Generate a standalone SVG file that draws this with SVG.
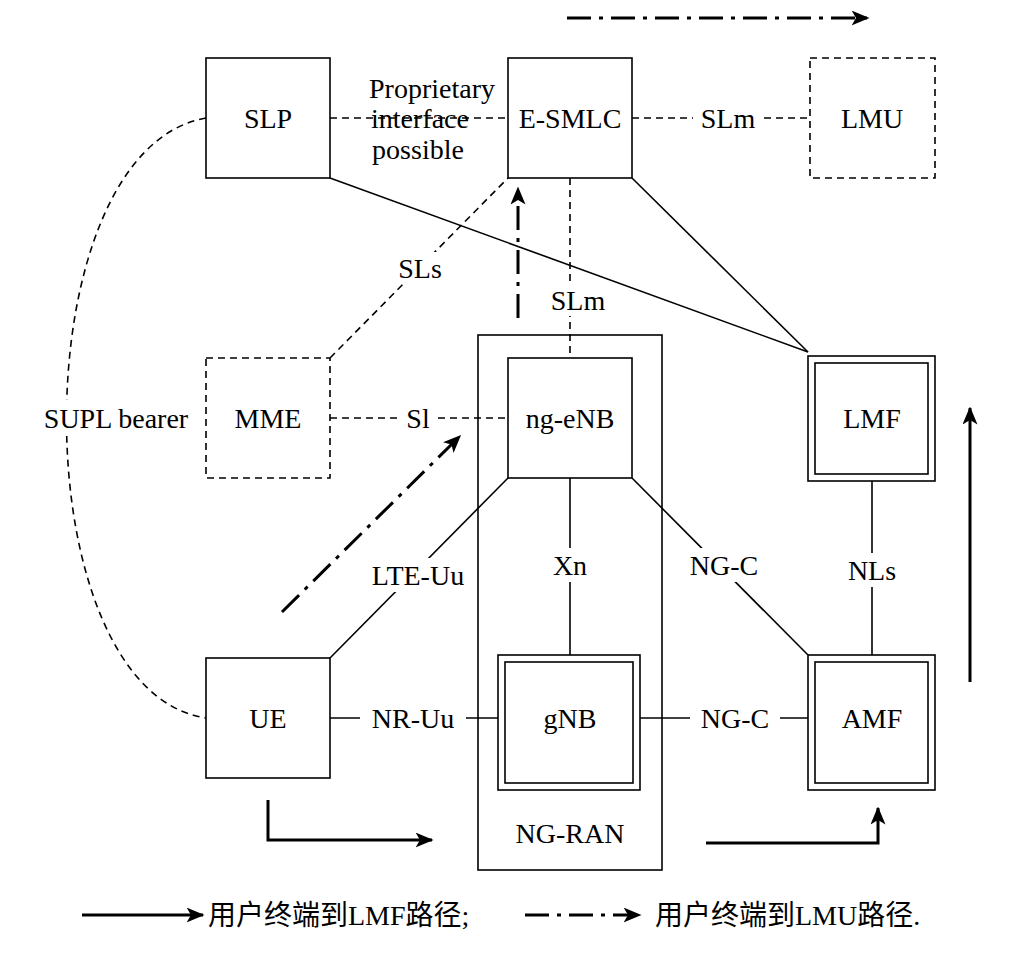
<svg xmlns="http://www.w3.org/2000/svg" width="1009" height="970" viewBox="0 0 1009 970">
<style>
.b{fill:#fff;stroke:#000;stroke-width:1.6}
.d{fill:#fff;stroke:#000;stroke-width:1.6;stroke-dasharray:7,5}
.l{fill:none;stroke:#000;stroke-width:1.6}
.dl{fill:none;stroke:#000;stroke-width:1.6;stroke-dasharray:7,5}
.p{fill:none;stroke:#000;stroke-width:3}
.pd{fill:none;stroke:#000;stroke-width:3;stroke-dasharray:24,8,4,8}
text{font-family:"Liberation Serif","Noto Sans CJK SC",serif;font-size:28px;text-anchor:middle;dominant-baseline:central}
.bg{fill:#fff;stroke:none}
</style>
<defs>
<marker id="a" viewBox="0 0 12 10" refX="11" refY="5" markerWidth="6" markerHeight="5" orient="auto" markerUnits="strokeWidth"><path d="M0,0L12,5L0,10L3,5Z" fill="#000"/></marker>
</defs>
<rect width="1009" height="970" fill="#fff"/>
<g id="ngran"><rect class="b" x="478" y="335" width="184" height="535"/><text x="570" y="833">NG-RAN</text></g>
<g id="connectors">
<path class="dl" d="M206,118 C20,150 20,690 206,718"/>
<rect class="bg" x="28" y="400" width="176" height="36"/>
<text x="116" y="418">SUPL bearer</text>
<line class="dl" x1="330" y1="118" x2="508" y2="118"/>
<line class="dl" x1="632" y1="118" x2="810" y2="118"/>
<rect class="bg" x="693" y="102" width="70" height="32"/><text x="728" y="118">SLm</text>
<line class="l" x1="330" y1="178" x2="808" y2="352"/>
<line class="l" x1="632" y1="178" x2="808" y2="352"/>
<line class="dl" x1="570" y1="178" x2="570" y2="358"/>
<rect class="bg" x="544" y="284" width="70" height="32"/><text x="578" y="300">SLm</text>
<line class="dl" x1="330" y1="358" x2="508" y2="178"/>
<rect class="bg" x="392" y="252" width="56" height="32"/><text x="420" y="268">SLs</text>
<line class="dl" x1="330" y1="418" x2="508" y2="418"/>
<rect class="bg" x="402" y="402" width="34" height="32"/><text x="418" y="418">Sl</text>
<line class="l" x1="508" y1="478" x2="330" y2="658"/>
<rect class="bg" x="358" y="558" width="118" height="34"/><text x="418" y="575">LTE-Uu</text>
<line class="l" x1="570" y1="478" x2="570" y2="655"/>
<rect class="bg" x="548" y="548" width="44" height="34"/><text x="570" y="565">Xn</text>
<line class="l" x1="632" y1="478" x2="808" y2="655"/>
<rect class="bg" x="682" y="548" width="84" height="34"/><text x="724" y="565">NG-C</text>
<line class="l" x1="872" y1="480" x2="872" y2="655"/>
<rect class="bg" x="838" y="553" width="70" height="34"/><text x="872" y="570">NLs</text>
<line class="l" x1="330" y1="718" x2="498" y2="718"/>
<rect class="bg" x="360" y="701" width="106" height="34"/><text x="413" y="718">NR-Uu</text>
<line class="l" x1="640" y1="718" x2="808" y2="718"/>
<rect class="bg" x="690" y="701" width="90" height="34"/><text x="735" y="718">NG-C</text>
</g>
<g id="slp"><rect class="b" x="206" y="58" width="124" height="120"/><text x="268" y="118">SLP</text></g>
<g id="prop"><text x="432" y="88">Proprietary</text><text x="420" y="118">interface</text><text x="418" y="149">possible</text></g>
<g id="esmlc"><rect class="b" x="508" y="58" width="124" height="120"/><text x="570" y="118">E-SMLC</text></g>
<g id="lmu"><rect class="d" x="810" y="58" width="125" height="120"/><text x="872" y="118">LMU</text></g>
<g id="mme"><rect class="d" x="206" y="358" width="124" height="120"/><text x="268" y="418">MME</text></g>
<g id="ngenb"><rect class="b" x="508" y="358" width="124" height="120"/><text x="570" y="418">ng-eNB</text></g>
<g id="lmf"><rect class="b" x="808" y="356" width="127" height="125"/><rect class="l" x="815" y="363" width="113" height="111"/><text x="872" y="418">LMF</text></g>
<g id="gnb"><rect class="b" x="498" y="655" width="142" height="135"/><rect class="l" x="505" y="662" width="128" height="121"/><text x="570" y="718">gNB</text></g>
<g id="ue"><rect class="b" x="206" y="658" width="124" height="120"/><text x="268" y="718">UE</text></g>
<g id="amf"><rect class="b" x="808" y="655" width="127" height="135"/><rect class="l" x="815" y="662" width="113" height="121"/><text x="872" y="718">AMF</text></g>
<g id="paths">
<line class="pd" x1="567" y1="18" x2="868" y2="18" marker-end="url(#a)"/>
<line class="pd" x1="282" y1="612" x2="460" y2="436" marker-end="url(#a)"/>
<line class="pd" x1="518" y1="318" x2="518" y2="188" marker-end="url(#a)"/>
<path class="p" d="M268,800V840H432" marker-end="url(#a)"/>
<path class="p" d="M706,843H878V808" marker-end="url(#a)"/>
<line class="p" x1="970" y1="682" x2="970" y2="408" marker-end="url(#a)"/>
</g>
<g id="legend">
<line class="p" x1="82" y1="915" x2="203" y2="915" marker-end="url(#a)"/>
<text x="208" y="915" style="text-anchor:start">用户终端到LMF路径;</text>
<line class="pd" x1="525" y1="915" x2="640" y2="915" marker-end="url(#a)"/>
<text x="655" y="915" style="text-anchor:start">用户终端到LMU路径.</text>
</g>
</svg>
